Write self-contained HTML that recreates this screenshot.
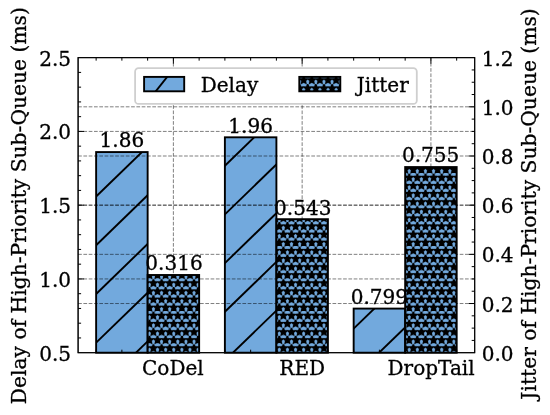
<!DOCTYPE html>
<html><head><meta charset="utf-8"><title>Delay and Jitter of High-Priority Sub-Queue</title>
<style>html,body{margin:0;padding:0;background:#fff}svg{display:block}text{font-family:"DejaVu Serif", "Liberation Serif", serif;font-size:20.05px;fill:#000;stroke:#000;stroke-width:0.3px}</style></head>
<body>
<svg width="550" height="415" viewBox="0 0 550 415">
<rect width="550" height="415" fill="#fff"/>
<defs>
<g id="s" transform="scale(1.0150 1.0150)" stroke="#000" stroke-linejoin="miter" stroke-linecap="square"><path d="M0.00 -2.67 L-0.78 -1.08 L-2.54 -0.82 L-1.27 0.41 L-1.57 2.16 L-0.00 1.33 L1.57 2.16 L1.27 0.41 L2.54 -0.82 L0.78 -1.08 L0.00 -2.67" fill="none" stroke-width="3" stroke-opacity="0.22"/><path d="M0.00 -2.67 L-0.78 -1.08 L-2.54 -0.82 L-1.27 0.41 L-1.57 2.16 L-0.00 1.33 L1.57 2.16 L1.27 0.41 L2.54 -0.82 L0.78 -1.08 L0.00 -2.67" fill="#000" stroke-width="2"/></g>
</defs>
<clipPath id="c0"><rect x="96.13" y="152.07" width="51.51" height="200.63"/></clipPath>
<rect x="96.13" y="152.07" width="51.51" height="200.63" fill="#72a9dd"/>
<g clip-path="url(#c0)" stroke="#000" stroke-width="1.9" fill="none"><line x1="91.13" y1="152.69" x2="152.63" y2="93.03"/><line x1="91.13" y1="201.39" x2="152.63" y2="141.73"/><line x1="91.13" y1="250.09" x2="152.63" y2="190.43"/><line x1="91.13" y1="298.79" x2="152.63" y2="239.13"/><line x1="91.13" y1="347.49" x2="152.63" y2="287.83"/><line x1="91.13" y1="396.19" x2="152.63" y2="336.53"/></g>
<rect x="96.13" y="152.07" width="51.51" height="200.63" fill="none" stroke="#000" stroke-width="1.9"/>
<clipPath id="c1"><rect x="224.89" y="137.31" width="51.51" height="215.39"/></clipPath>
<rect x="224.89" y="137.31" width="51.51" height="215.39" fill="#72a9dd"/>
<g clip-path="url(#c1)" stroke="#000" stroke-width="1.9" fill="none"><line x1="219.89" y1="170.56" x2="281.40" y2="110.90"/><line x1="219.89" y1="219.26" x2="281.40" y2="159.60"/><line x1="219.89" y1="267.96" x2="281.40" y2="208.30"/><line x1="219.89" y1="316.66" x2="281.40" y2="257.00"/><line x1="219.89" y1="365.36" x2="281.40" y2="305.70"/><line x1="219.89" y1="414.06" x2="281.40" y2="354.40"/></g>
<rect x="224.89" y="137.31" width="51.51" height="215.39" fill="none" stroke="#000" stroke-width="1.9"/>
<clipPath id="c2"><rect x="353.66" y="308.59" width="51.51" height="44.11"/></clipPath>
<rect x="353.66" y="308.59" width="51.51" height="44.11" fill="#72a9dd"/>
<g clip-path="url(#c2)" stroke="#000" stroke-width="1.9" fill="none"><line x1="348.66" y1="333.48" x2="410.17" y2="273.82"/><line x1="348.66" y1="382.18" x2="410.17" y2="322.52"/></g>
<rect x="353.66" y="308.59" width="51.51" height="44.11" fill="none" stroke="#000" stroke-width="1.9"/>
<g stroke="#000" stroke-opacity="0.5" stroke-width="1" stroke-dasharray="3.7 1.6" fill="none"><line x1="173.39" y1="352.70" x2="173.39" y2="57.65"/><line x1="302.15" y1="352.70" x2="302.15" y2="57.65"/><line x1="430.92" y1="352.70" x2="430.92" y2="57.65"/><line x1="78.10" y1="278.94" x2="474.70" y2="278.94"/><line x1="78.10" y1="205.17" x2="474.70" y2="205.17"/><line x1="78.10" y1="131.41" x2="474.70" y2="131.41"/></g>
<g stroke="#000" stroke-width="1" fill="none"><line x1="96.13" y1="352.70" x2="96.13" y2="349.70"/><line x1="96.13" y1="57.65" x2="96.13" y2="60.65"/><line x1="121.88" y1="352.70" x2="121.88" y2="349.70"/><line x1="121.88" y1="57.65" x2="121.88" y2="60.65"/><line x1="147.63" y1="352.70" x2="147.63" y2="349.70"/><line x1="147.63" y1="57.65" x2="147.63" y2="60.65"/><line x1="173.39" y1="352.70" x2="173.39" y2="346.70"/><line x1="173.39" y1="57.65" x2="173.39" y2="63.65"/><line x1="199.14" y1="352.70" x2="199.14" y2="349.70"/><line x1="199.14" y1="57.65" x2="199.14" y2="60.65"/><line x1="224.89" y1="352.70" x2="224.89" y2="349.70"/><line x1="224.89" y1="57.65" x2="224.89" y2="60.65"/><line x1="250.65" y1="352.70" x2="250.65" y2="349.70"/><line x1="250.65" y1="57.65" x2="250.65" y2="60.65"/><line x1="276.40" y1="352.70" x2="276.40" y2="349.70"/><line x1="276.40" y1="57.65" x2="276.40" y2="60.65"/><line x1="302.15" y1="352.70" x2="302.15" y2="346.70"/><line x1="302.15" y1="57.65" x2="302.15" y2="63.65"/><line x1="327.91" y1="352.70" x2="327.91" y2="349.70"/><line x1="327.91" y1="57.65" x2="327.91" y2="60.65"/><line x1="353.66" y1="352.70" x2="353.66" y2="349.70"/><line x1="353.66" y1="57.65" x2="353.66" y2="60.65"/><line x1="379.41" y1="352.70" x2="379.41" y2="349.70"/><line x1="379.41" y1="57.65" x2="379.41" y2="60.65"/><line x1="405.17" y1="352.70" x2="405.17" y2="349.70"/><line x1="405.17" y1="57.65" x2="405.17" y2="60.65"/><line x1="430.92" y1="352.70" x2="430.92" y2="346.70"/><line x1="430.92" y1="57.65" x2="430.92" y2="63.65"/><line x1="456.67" y1="352.70" x2="456.67" y2="349.70"/><line x1="456.67" y1="57.65" x2="456.67" y2="60.65"/><line x1="78.10" y1="337.95" x2="81.10" y2="337.95"/><line x1="78.10" y1="323.19" x2="81.10" y2="323.19"/><line x1="78.10" y1="308.44" x2="81.10" y2="308.44"/><line x1="78.10" y1="293.69" x2="81.10" y2="293.69"/><line x1="78.10" y1="278.94" x2="84.10" y2="278.94"/><line x1="78.10" y1="264.18" x2="81.10" y2="264.18"/><line x1="78.10" y1="249.43" x2="81.10" y2="249.43"/><line x1="78.10" y1="234.68" x2="81.10" y2="234.68"/><line x1="78.10" y1="219.93" x2="81.10" y2="219.93"/><line x1="78.10" y1="205.17" x2="84.10" y2="205.17"/><line x1="78.10" y1="190.42" x2="81.10" y2="190.42"/><line x1="78.10" y1="175.67" x2="81.10" y2="175.67"/><line x1="78.10" y1="160.92" x2="81.10" y2="160.92"/><line x1="78.10" y1="146.16" x2="81.10" y2="146.16"/><line x1="78.10" y1="131.41" x2="84.10" y2="131.41"/><line x1="78.10" y1="116.66" x2="81.10" y2="116.66"/><line x1="78.10" y1="101.91" x2="81.10" y2="101.91"/><line x1="78.10" y1="87.16" x2="81.10" y2="87.16"/><line x1="78.10" y1="72.40" x2="81.10" y2="72.40"/></g>
<rect x="78.10" y="57.65" width="396.60" height="295.05" fill="none" stroke="#000" stroke-width="1"/>
<text x="71.10" y="360.70" text-anchor="end">0.5</text>
<text x="71.10" y="286.94" text-anchor="end">1.0</text>
<text x="71.10" y="213.17" text-anchor="end">1.5</text>
<text x="71.10" y="139.41" text-anchor="end">2.0</text>
<text x="71.10" y="65.65" text-anchor="end">2.5</text>
<text x="172.89" y="375.40" text-anchor="middle">CoDel</text>
<text x="302.25" y="375.40" text-anchor="middle">RED</text>
<text x="431.12" y="375.40" text-anchor="middle">DropTail</text>
<text x="121.88" y="147.47" text-anchor="middle">1.86</text>
<text x="250.65" y="132.71" text-anchor="middle">1.96</text>
<text x="379.41" y="303.99" text-anchor="middle">0.799</text>
<text transform="translate(25.60 205.65) rotate(-90)" text-anchor="middle" style="font-size:20.25px">Delay of High-Priority Sub-Queue (ms)</text>
<g stroke="#000" stroke-opacity="0.5" stroke-width="1" stroke-dasharray="3.7 1.6" fill="none"><line x1="78.10" y1="303.52" x2="474.70" y2="303.52"/><line x1="78.10" y1="254.35" x2="474.70" y2="254.35"/><line x1="78.10" y1="205.17" x2="474.70" y2="205.17"/><line x1="78.10" y1="156.00" x2="474.70" y2="156.00"/><line x1="78.10" y1="106.82" x2="474.70" y2="106.82"/></g>
<clipPath id="j0"><rect x="147.63" y="275.00" width="51.51" height="77.70"/></clipPath><rect x="147.63" y="275.00" width="51.51" height="77.70" fill="#72a9dd"/><g clip-path="url(#j0)"><g><use href="#s" x="149.4" y="275.1"/><use href="#s" x="157.5" y="275.1"/><use href="#s" x="165.6" y="275.1"/><use href="#s" x="173.7" y="275.1"/><use href="#s" x="181.9" y="275.1"/><use href="#s" x="190.0" y="275.1"/><use href="#s" x="198.1" y="275.1"/><use href="#s" x="145.3" y="283.2"/><use href="#s" x="153.4" y="283.2"/><use href="#s" x="161.6" y="283.2"/><use href="#s" x="169.7" y="283.2"/><use href="#s" x="177.8" y="283.2"/><use href="#s" x="185.9" y="283.2"/><use href="#s" x="194.0" y="283.2"/><use href="#s" x="202.2" y="283.2"/><use href="#s" x="149.4" y="291.4"/><use href="#s" x="157.5" y="291.4"/><use href="#s" x="165.6" y="291.4"/><use href="#s" x="173.7" y="291.4"/><use href="#s" x="181.9" y="291.4"/><use href="#s" x="190.0" y="291.4"/><use href="#s" x="198.1" y="291.4"/><use href="#s" x="145.3" y="299.5"/><use href="#s" x="153.4" y="299.5"/><use href="#s" x="161.6" y="299.5"/><use href="#s" x="169.7" y="299.5"/><use href="#s" x="177.8" y="299.5"/><use href="#s" x="185.9" y="299.5"/><use href="#s" x="194.0" y="299.5"/><use href="#s" x="202.2" y="299.5"/><use href="#s" x="149.4" y="307.6"/><use href="#s" x="157.5" y="307.6"/><use href="#s" x="165.6" y="307.6"/><use href="#s" x="173.7" y="307.6"/><use href="#s" x="181.9" y="307.6"/><use href="#s" x="190.0" y="307.6"/><use href="#s" x="198.1" y="307.6"/><use href="#s" x="145.3" y="315.7"/><use href="#s" x="153.4" y="315.7"/><use href="#s" x="161.6" y="315.7"/><use href="#s" x="169.7" y="315.7"/><use href="#s" x="177.8" y="315.7"/><use href="#s" x="185.9" y="315.7"/><use href="#s" x="194.0" y="315.7"/><use href="#s" x="202.2" y="315.7"/><use href="#s" x="149.4" y="323.8"/><use href="#s" x="157.5" y="323.8"/><use href="#s" x="165.6" y="323.8"/><use href="#s" x="173.7" y="323.8"/><use href="#s" x="181.9" y="323.8"/><use href="#s" x="190.0" y="323.8"/><use href="#s" x="198.1" y="323.8"/><use href="#s" x="145.3" y="332.0"/><use href="#s" x="153.4" y="332.0"/><use href="#s" x="161.6" y="332.0"/><use href="#s" x="169.7" y="332.0"/><use href="#s" x="177.8" y="332.0"/><use href="#s" x="185.9" y="332.0"/><use href="#s" x="194.0" y="332.0"/><use href="#s" x="202.2" y="332.0"/><use href="#s" x="149.4" y="340.1"/><use href="#s" x="157.5" y="340.1"/><use href="#s" x="165.6" y="340.1"/><use href="#s" x="173.7" y="340.1"/><use href="#s" x="181.9" y="340.1"/><use href="#s" x="190.0" y="340.1"/><use href="#s" x="198.1" y="340.1"/><use href="#s" x="145.3" y="348.2"/><use href="#s" x="153.4" y="348.2"/><use href="#s" x="161.6" y="348.2"/><use href="#s" x="169.7" y="348.2"/><use href="#s" x="177.8" y="348.2"/><use href="#s" x="185.9" y="348.2"/><use href="#s" x="194.0" y="348.2"/><use href="#s" x="202.2" y="348.2"/><use href="#s" x="149.4" y="356.3"/><use href="#s" x="157.5" y="356.3"/><use href="#s" x="165.6" y="356.3"/><use href="#s" x="173.7" y="356.3"/><use href="#s" x="181.9" y="356.3"/><use href="#s" x="190.0" y="356.3"/><use href="#s" x="198.1" y="356.3"/></g></g><rect x="147.63" y="275.00" width="51.51" height="77.70" fill="none" stroke="#000" stroke-width="1.9"/>
<clipPath id="j1"><rect x="276.40" y="219.19" width="51.51" height="133.51"/></clipPath><rect x="276.40" y="219.19" width="51.51" height="133.51" fill="#72a9dd"/><g clip-path="url(#j1)"><g><use href="#s" x="275.2" y="218.3"/><use href="#s" x="283.4" y="218.3"/><use href="#s" x="291.5" y="218.3"/><use href="#s" x="299.6" y="218.3"/><use href="#s" x="307.7" y="218.3"/><use href="#s" x="315.8" y="218.3"/><use href="#s" x="324.0" y="218.3"/><use href="#s" x="332.1" y="218.3"/><use href="#s" x="279.3" y="226.4"/><use href="#s" x="287.4" y="226.4"/><use href="#s" x="295.6" y="226.4"/><use href="#s" x="303.7" y="226.4"/><use href="#s" x="311.8" y="226.4"/><use href="#s" x="319.9" y="226.4"/><use href="#s" x="328.0" y="226.4"/><use href="#s" x="275.2" y="234.5"/><use href="#s" x="283.4" y="234.5"/><use href="#s" x="291.5" y="234.5"/><use href="#s" x="299.6" y="234.5"/><use href="#s" x="307.7" y="234.5"/><use href="#s" x="315.8" y="234.5"/><use href="#s" x="324.0" y="234.5"/><use href="#s" x="332.1" y="234.5"/><use href="#s" x="279.3" y="242.6"/><use href="#s" x="287.4" y="242.6"/><use href="#s" x="295.6" y="242.6"/><use href="#s" x="303.7" y="242.6"/><use href="#s" x="311.8" y="242.6"/><use href="#s" x="319.9" y="242.6"/><use href="#s" x="328.0" y="242.6"/><use href="#s" x="275.2" y="250.8"/><use href="#s" x="283.4" y="250.8"/><use href="#s" x="291.5" y="250.8"/><use href="#s" x="299.6" y="250.8"/><use href="#s" x="307.7" y="250.8"/><use href="#s" x="315.8" y="250.8"/><use href="#s" x="324.0" y="250.8"/><use href="#s" x="332.1" y="250.8"/><use href="#s" x="279.3" y="258.9"/><use href="#s" x="287.4" y="258.9"/><use href="#s" x="295.6" y="258.9"/><use href="#s" x="303.7" y="258.9"/><use href="#s" x="311.8" y="258.9"/><use href="#s" x="319.9" y="258.9"/><use href="#s" x="328.0" y="258.9"/><use href="#s" x="275.2" y="267.0"/><use href="#s" x="283.4" y="267.0"/><use href="#s" x="291.5" y="267.0"/><use href="#s" x="299.6" y="267.0"/><use href="#s" x="307.7" y="267.0"/><use href="#s" x="315.8" y="267.0"/><use href="#s" x="324.0" y="267.0"/><use href="#s" x="332.1" y="267.0"/><use href="#s" x="279.3" y="275.1"/><use href="#s" x="287.4" y="275.1"/><use href="#s" x="295.6" y="275.1"/><use href="#s" x="303.7" y="275.1"/><use href="#s" x="311.8" y="275.1"/><use href="#s" x="319.9" y="275.1"/><use href="#s" x="328.0" y="275.1"/><use href="#s" x="275.2" y="283.2"/><use href="#s" x="283.4" y="283.2"/><use href="#s" x="291.5" y="283.2"/><use href="#s" x="299.6" y="283.2"/><use href="#s" x="307.7" y="283.2"/><use href="#s" x="315.8" y="283.2"/><use href="#s" x="324.0" y="283.2"/><use href="#s" x="332.1" y="283.2"/><use href="#s" x="279.3" y="291.4"/><use href="#s" x="287.4" y="291.4"/><use href="#s" x="295.6" y="291.4"/><use href="#s" x="303.7" y="291.4"/><use href="#s" x="311.8" y="291.4"/><use href="#s" x="319.9" y="291.4"/><use href="#s" x="328.0" y="291.4"/><use href="#s" x="275.2" y="299.5"/><use href="#s" x="283.4" y="299.5"/><use href="#s" x="291.5" y="299.5"/><use href="#s" x="299.6" y="299.5"/><use href="#s" x="307.7" y="299.5"/><use href="#s" x="315.8" y="299.5"/><use href="#s" x="324.0" y="299.5"/><use href="#s" x="332.1" y="299.5"/><use href="#s" x="279.3" y="307.6"/><use href="#s" x="287.4" y="307.6"/><use href="#s" x="295.6" y="307.6"/><use href="#s" x="303.7" y="307.6"/><use href="#s" x="311.8" y="307.6"/><use href="#s" x="319.9" y="307.6"/><use href="#s" x="328.0" y="307.6"/><use href="#s" x="275.2" y="315.7"/><use href="#s" x="283.4" y="315.7"/><use href="#s" x="291.5" y="315.7"/><use href="#s" x="299.6" y="315.7"/><use href="#s" x="307.7" y="315.7"/><use href="#s" x="315.8" y="315.7"/><use href="#s" x="324.0" y="315.7"/><use href="#s" x="332.1" y="315.7"/><use href="#s" x="279.3" y="323.8"/><use href="#s" x="287.4" y="323.8"/><use href="#s" x="295.6" y="323.8"/><use href="#s" x="303.7" y="323.8"/><use href="#s" x="311.8" y="323.8"/><use href="#s" x="319.9" y="323.8"/><use href="#s" x="328.0" y="323.8"/><use href="#s" x="275.2" y="332.0"/><use href="#s" x="283.4" y="332.0"/><use href="#s" x="291.5" y="332.0"/><use href="#s" x="299.6" y="332.0"/><use href="#s" x="307.7" y="332.0"/><use href="#s" x="315.8" y="332.0"/><use href="#s" x="324.0" y="332.0"/><use href="#s" x="332.1" y="332.0"/><use href="#s" x="279.3" y="340.1"/><use href="#s" x="287.4" y="340.1"/><use href="#s" x="295.6" y="340.1"/><use href="#s" x="303.7" y="340.1"/><use href="#s" x="311.8" y="340.1"/><use href="#s" x="319.9" y="340.1"/><use href="#s" x="328.0" y="340.1"/><use href="#s" x="275.2" y="348.2"/><use href="#s" x="283.4" y="348.2"/><use href="#s" x="291.5" y="348.2"/><use href="#s" x="299.6" y="348.2"/><use href="#s" x="307.7" y="348.2"/><use href="#s" x="315.8" y="348.2"/><use href="#s" x="324.0" y="348.2"/><use href="#s" x="332.1" y="348.2"/><use href="#s" x="279.3" y="356.3"/><use href="#s" x="287.4" y="356.3"/><use href="#s" x="295.6" y="356.3"/><use href="#s" x="303.7" y="356.3"/><use href="#s" x="311.8" y="356.3"/><use href="#s" x="319.9" y="356.3"/><use href="#s" x="328.0" y="356.3"/></g></g><rect x="276.40" y="219.19" width="51.51" height="133.51" fill="none" stroke="#000" stroke-width="1.9"/>
<clipPath id="j2"><rect x="405.17" y="167.06" width="51.51" height="185.64"/></clipPath><rect x="405.17" y="167.06" width="51.51" height="185.64" fill="#72a9dd"/><g clip-path="url(#j2)"><g><use href="#s" x="405.2" y="169.6"/><use href="#s" x="413.3" y="169.6"/><use href="#s" x="421.4" y="169.6"/><use href="#s" x="429.5" y="169.6"/><use href="#s" x="437.6" y="169.6"/><use href="#s" x="445.8" y="169.6"/><use href="#s" x="453.9" y="169.6"/><use href="#s" x="401.1" y="177.7"/><use href="#s" x="409.2" y="177.7"/><use href="#s" x="417.3" y="177.7"/><use href="#s" x="425.5" y="177.7"/><use href="#s" x="433.6" y="177.7"/><use href="#s" x="441.7" y="177.7"/><use href="#s" x="449.8" y="177.7"/><use href="#s" x="457.9" y="177.7"/><use href="#s" x="405.2" y="185.8"/><use href="#s" x="413.3" y="185.8"/><use href="#s" x="421.4" y="185.8"/><use href="#s" x="429.5" y="185.8"/><use href="#s" x="437.6" y="185.8"/><use href="#s" x="445.8" y="185.8"/><use href="#s" x="453.9" y="185.8"/><use href="#s" x="401.1" y="193.9"/><use href="#s" x="409.2" y="193.9"/><use href="#s" x="417.3" y="193.9"/><use href="#s" x="425.5" y="193.9"/><use href="#s" x="433.6" y="193.9"/><use href="#s" x="441.7" y="193.9"/><use href="#s" x="449.8" y="193.9"/><use href="#s" x="457.9" y="193.9"/><use href="#s" x="405.2" y="202.0"/><use href="#s" x="413.3" y="202.0"/><use href="#s" x="421.4" y="202.0"/><use href="#s" x="429.5" y="202.0"/><use href="#s" x="437.6" y="202.0"/><use href="#s" x="445.8" y="202.0"/><use href="#s" x="453.9" y="202.0"/><use href="#s" x="401.1" y="210.2"/><use href="#s" x="409.2" y="210.2"/><use href="#s" x="417.3" y="210.2"/><use href="#s" x="425.5" y="210.2"/><use href="#s" x="433.6" y="210.2"/><use href="#s" x="441.7" y="210.2"/><use href="#s" x="449.8" y="210.2"/><use href="#s" x="457.9" y="210.2"/><use href="#s" x="405.2" y="218.3"/><use href="#s" x="413.3" y="218.3"/><use href="#s" x="421.4" y="218.3"/><use href="#s" x="429.5" y="218.3"/><use href="#s" x="437.6" y="218.3"/><use href="#s" x="445.8" y="218.3"/><use href="#s" x="453.9" y="218.3"/><use href="#s" x="401.1" y="226.4"/><use href="#s" x="409.2" y="226.4"/><use href="#s" x="417.3" y="226.4"/><use href="#s" x="425.5" y="226.4"/><use href="#s" x="433.6" y="226.4"/><use href="#s" x="441.7" y="226.4"/><use href="#s" x="449.8" y="226.4"/><use href="#s" x="457.9" y="226.4"/><use href="#s" x="405.2" y="234.5"/><use href="#s" x="413.3" y="234.5"/><use href="#s" x="421.4" y="234.5"/><use href="#s" x="429.5" y="234.5"/><use href="#s" x="437.6" y="234.5"/><use href="#s" x="445.8" y="234.5"/><use href="#s" x="453.9" y="234.5"/><use href="#s" x="401.1" y="242.6"/><use href="#s" x="409.2" y="242.6"/><use href="#s" x="417.3" y="242.6"/><use href="#s" x="425.5" y="242.6"/><use href="#s" x="433.6" y="242.6"/><use href="#s" x="441.7" y="242.6"/><use href="#s" x="449.8" y="242.6"/><use href="#s" x="457.9" y="242.6"/><use href="#s" x="405.2" y="250.8"/><use href="#s" x="413.3" y="250.8"/><use href="#s" x="421.4" y="250.8"/><use href="#s" x="429.5" y="250.8"/><use href="#s" x="437.6" y="250.8"/><use href="#s" x="445.8" y="250.8"/><use href="#s" x="453.9" y="250.8"/><use href="#s" x="401.1" y="258.9"/><use href="#s" x="409.2" y="258.9"/><use href="#s" x="417.3" y="258.9"/><use href="#s" x="425.5" y="258.9"/><use href="#s" x="433.6" y="258.9"/><use href="#s" x="441.7" y="258.9"/><use href="#s" x="449.8" y="258.9"/><use href="#s" x="457.9" y="258.9"/><use href="#s" x="405.2" y="267.0"/><use href="#s" x="413.3" y="267.0"/><use href="#s" x="421.4" y="267.0"/><use href="#s" x="429.5" y="267.0"/><use href="#s" x="437.6" y="267.0"/><use href="#s" x="445.8" y="267.0"/><use href="#s" x="453.9" y="267.0"/><use href="#s" x="401.1" y="275.1"/><use href="#s" x="409.2" y="275.1"/><use href="#s" x="417.3" y="275.1"/><use href="#s" x="425.5" y="275.1"/><use href="#s" x="433.6" y="275.1"/><use href="#s" x="441.7" y="275.1"/><use href="#s" x="449.8" y="275.1"/><use href="#s" x="457.9" y="275.1"/><use href="#s" x="405.2" y="283.2"/><use href="#s" x="413.3" y="283.2"/><use href="#s" x="421.4" y="283.2"/><use href="#s" x="429.5" y="283.2"/><use href="#s" x="437.6" y="283.2"/><use href="#s" x="445.8" y="283.2"/><use href="#s" x="453.9" y="283.2"/><use href="#s" x="401.1" y="291.4"/><use href="#s" x="409.2" y="291.4"/><use href="#s" x="417.3" y="291.4"/><use href="#s" x="425.5" y="291.4"/><use href="#s" x="433.6" y="291.4"/><use href="#s" x="441.7" y="291.4"/><use href="#s" x="449.8" y="291.4"/><use href="#s" x="457.9" y="291.4"/><use href="#s" x="405.2" y="299.5"/><use href="#s" x="413.3" y="299.5"/><use href="#s" x="421.4" y="299.5"/><use href="#s" x="429.5" y="299.5"/><use href="#s" x="437.6" y="299.5"/><use href="#s" x="445.8" y="299.5"/><use href="#s" x="453.9" y="299.5"/><use href="#s" x="401.1" y="307.6"/><use href="#s" x="409.2" y="307.6"/><use href="#s" x="417.3" y="307.6"/><use href="#s" x="425.5" y="307.6"/><use href="#s" x="433.6" y="307.6"/><use href="#s" x="441.7" y="307.6"/><use href="#s" x="449.8" y="307.6"/><use href="#s" x="457.9" y="307.6"/><use href="#s" x="405.2" y="315.7"/><use href="#s" x="413.3" y="315.7"/><use href="#s" x="421.4" y="315.7"/><use href="#s" x="429.5" y="315.7"/><use href="#s" x="437.6" y="315.7"/><use href="#s" x="445.8" y="315.7"/><use href="#s" x="453.9" y="315.7"/><use href="#s" x="401.1" y="323.8"/><use href="#s" x="409.2" y="323.8"/><use href="#s" x="417.3" y="323.8"/><use href="#s" x="425.5" y="323.8"/><use href="#s" x="433.6" y="323.8"/><use href="#s" x="441.7" y="323.8"/><use href="#s" x="449.8" y="323.8"/><use href="#s" x="457.9" y="323.8"/><use href="#s" x="405.2" y="332.0"/><use href="#s" x="413.3" y="332.0"/><use href="#s" x="421.4" y="332.0"/><use href="#s" x="429.5" y="332.0"/><use href="#s" x="437.6" y="332.0"/><use href="#s" x="445.8" y="332.0"/><use href="#s" x="453.9" y="332.0"/><use href="#s" x="401.1" y="340.1"/><use href="#s" x="409.2" y="340.1"/><use href="#s" x="417.3" y="340.1"/><use href="#s" x="425.5" y="340.1"/><use href="#s" x="433.6" y="340.1"/><use href="#s" x="441.7" y="340.1"/><use href="#s" x="449.8" y="340.1"/><use href="#s" x="457.9" y="340.1"/><use href="#s" x="405.2" y="348.2"/><use href="#s" x="413.3" y="348.2"/><use href="#s" x="421.4" y="348.2"/><use href="#s" x="429.5" y="348.2"/><use href="#s" x="437.6" y="348.2"/><use href="#s" x="445.8" y="348.2"/><use href="#s" x="453.9" y="348.2"/><use href="#s" x="401.1" y="356.3"/><use href="#s" x="409.2" y="356.3"/><use href="#s" x="417.3" y="356.3"/><use href="#s" x="425.5" y="356.3"/><use href="#s" x="433.6" y="356.3"/><use href="#s" x="441.7" y="356.3"/><use href="#s" x="449.8" y="356.3"/><use href="#s" x="457.9" y="356.3"/></g></g><rect x="405.17" y="167.06" width="51.51" height="185.64" fill="none" stroke="#000" stroke-width="1.9"/>
<g stroke="#000" stroke-width="1" fill="none"><line x1="474.70" y1="340.41" x2="471.70" y2="340.41"/><line x1="474.70" y1="328.11" x2="471.70" y2="328.11"/><line x1="474.70" y1="315.82" x2="471.70" y2="315.82"/><line x1="474.70" y1="303.52" x2="468.70" y2="303.52"/><line x1="474.70" y1="291.23" x2="471.70" y2="291.23"/><line x1="474.70" y1="278.94" x2="471.70" y2="278.94"/><line x1="474.70" y1="266.64" x2="471.70" y2="266.64"/><line x1="474.70" y1="254.35" x2="468.70" y2="254.35"/><line x1="474.70" y1="242.06" x2="471.70" y2="242.06"/><line x1="474.70" y1="229.76" x2="471.70" y2="229.76"/><line x1="474.70" y1="217.47" x2="471.70" y2="217.47"/><line x1="474.70" y1="205.17" x2="468.70" y2="205.17"/><line x1="474.70" y1="192.88" x2="471.70" y2="192.88"/><line x1="474.70" y1="180.59" x2="471.70" y2="180.59"/><line x1="474.70" y1="168.29" x2="471.70" y2="168.29"/><line x1="474.70" y1="156.00" x2="468.70" y2="156.00"/><line x1="474.70" y1="143.71" x2="471.70" y2="143.71"/><line x1="474.70" y1="131.41" x2="471.70" y2="131.41"/><line x1="474.70" y1="119.12" x2="471.70" y2="119.12"/><line x1="474.70" y1="106.82" x2="468.70" y2="106.82"/><line x1="474.70" y1="94.53" x2="471.70" y2="94.53"/><line x1="474.70" y1="82.24" x2="471.70" y2="82.24"/><line x1="474.70" y1="69.94" x2="471.70" y2="69.94"/></g>
<rect x="78.10" y="57.65" width="396.60" height="295.05" fill="none" stroke="#000" stroke-width="1"/>
<text x="481.70" y="360.70">0.0</text>
<text x="481.70" y="311.52">0.2</text>
<text x="481.70" y="262.35">0.4</text>
<text x="481.70" y="213.17">0.6</text>
<text x="481.70" y="164.00">0.8</text>
<text x="481.70" y="114.82">1.0</text>
<text x="481.70" y="65.65">1.2</text>
<text x="173.99" y="270.40" text-anchor="middle">0.316</text>
<text x="302.75" y="214.59" text-anchor="middle">0.543</text>
<text x="430.62" y="162.46" text-anchor="middle">0.755</text>
<text transform="translate(535.90 203.95) rotate(-90)" text-anchor="middle" style="font-size:20.25px">Jitter of High-Priority Sub-Queue (ms)</text>
<rect x="135.10" y="68.20" width="281.70" height="35.70" rx="3.5" ry="3.5" fill="#fff" stroke="#cfcfcf" stroke-width="1.8"/>
<clipPath id="lc"><rect x="144.10" y="76.90" width="40.10" height="14.40"/></clipPath>
<rect x="144.10" y="76.90" width="40.10" height="14.40" fill="#72a9dd"/>
<line clip-path="url(#lc)" x1="151.90" y1="96.20" x2="171.20" y2="71.80" stroke="#000" stroke-width="1.9"/>
<rect x="144.10" y="76.90" width="40.10" height="14.40" fill="none" stroke="#000" stroke-width="1.9"/>
<text x="200.70" y="91.70">Delay</text>
<clipPath id="jl"><rect x="299.30" y="76.90" width="41.00" height="14.40"/></clipPath><rect x="299.30" y="76.90" width="41.00" height="14.40" fill="#72a9dd"/><g clip-path="url(#jl)"><g><use href="#s" x="299.6" y="72.1"/><use href="#s" x="307.7" y="72.1"/><use href="#s" x="315.8" y="72.1"/><use href="#s" x="324.0" y="72.1"/><use href="#s" x="332.1" y="72.1"/><use href="#s" x="340.2" y="72.1"/><use href="#s" x="295.6" y="80.2"/><use href="#s" x="303.7" y="80.2"/><use href="#s" x="311.8" y="80.2"/><use href="#s" x="319.9" y="80.2"/><use href="#s" x="328.0" y="80.2"/><use href="#s" x="336.1" y="80.2"/><use href="#s" x="344.3" y="80.2"/><use href="#s" x="299.6" y="88.4"/><use href="#s" x="307.7" y="88.4"/><use href="#s" x="315.8" y="88.4"/><use href="#s" x="324.0" y="88.4"/><use href="#s" x="332.1" y="88.4"/><use href="#s" x="340.2" y="88.4"/></g></g><rect x="299.30" y="76.90" width="41.00" height="14.40" fill="none" stroke="#000" stroke-width="1.9"/>
<text x="356.80" y="91.70">Jitter</text>
</svg>
</body></html>
